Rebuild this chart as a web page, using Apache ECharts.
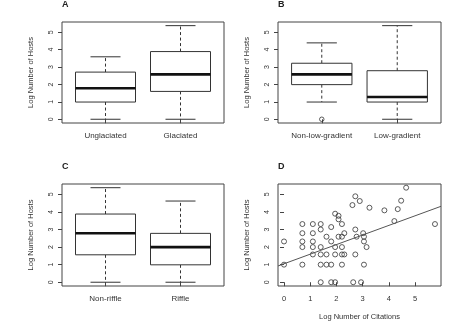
<!DOCTYPE html>
<html><head><meta charset="utf-8">
<script src="https://cdn.jsdelivr.net/npm/echarts@6/dist/echarts.min.js"></script>
<style>html,body{margin:0;padding:0;background:#fff}#c{width:474px;height:326px}</style>
</head><body><div id="c"></div>
<script>
// ---- data ----
const yTickValues = [0, 1, 2, 3, 4, 5];
const xTickValuesD = [0, 1, 2, 3, 4, 5];
const panelLetters = ['A', 'B', 'C', 'D'];
const yTitle = 'Log Number of Hosts';
const xTitleD = 'Log Number of Citations';

const categoriesA = ['Unglaciated', 'Glaciated'];
// [min, Q1, median, Q3, max]
const statsA = [[0, 0.99, 1.78, 2.71, 3.59], [0, 1.60, 2.58, 3.89, 5.38]];

const categoriesB = ['Non-low-gradient', 'Low-gradient'];
const statsB = [[0.99, 1.99, 2.58, 3.22, 4.39], [0, 0.99, 1.28, 2.79, 5.38]];
const outliersB = [[1, 0]]; // [category position, value]

const categoriesC = ['Non-riffle', 'Riffle'];
const statsC = [[0, 1.56, 2.79, 3.88, 5.38], [0, 0.99, 2.0, 2.78, 4.62]];

// panel D: [log citations, log hosts]
const citationsHosts = [
  [1.40,0],[1.80,0],[1.95,0],[2.64,0],[2.94,0],
  [0,1.0],[0.70,1.0],[1.40,1.0],[1.62,1.0],[1.80,1.0],[2.21,1.0],[3.05,1.0],
  [1.10,1.58],[1.40,1.58],[1.62,1.58],[1.95,1.58],[2.21,1.58],[2.30,1.58],[2.72,1.58],
  [0.70,2.0],[1.10,2.0],[1.40,2.0],[1.95,2.0],[2.21,2.0],[3.15,2.0],
  [0,2.32],[0.70,2.32],[1.10,2.32],[1.80,2.32],[3.05,2.32],
  [1.62,2.59],[2.08,2.59],[2.21,2.59],[2.77,2.59],[3.05,2.59],
  [0.70,2.79],[1.10,2.79],[2.30,2.79],[3.02,2.79],
  [1.40,3.0],[2.72,3.0],
  [1.80,3.14],
  [0.70,3.31],[1.10,3.31],[1.40,3.31],[2.21,3.31],[5.76,3.31],
  [2.08,3.58],[2.08,3.78],[1.95,3.90],
  [4.21,3.48],[3.83,4.09],[4.34,4.16],[3.26,4.24],[2.61,4.39],
  [2.89,4.62],[4.47,4.64],[2.72,4.89],[4.66,5.38]
];
const fitD = [1.05, 0.546]; // intercept, slope

// ---- chart ----
const FONT = 'Liberation Sans, Arial, sans-serif';
const AX = '#444';
const chart = echarts.init(document.getElementById('c'), null, {renderer: 'canvas'});

const grids = [
  {left: 62, top: 22, width: 162, height: 101},
  {left: 278, top: 22, width: 163, height: 101},
  {left: 62, top: 184, width: 162, height: 102},
  {left: 278, top: 184, width: 163, height: 102}
].map(g => Object.assign(g, {show: true, borderColor: AX, borderWidth: 1, backgroundColor: 'transparent'}));

function yAxis(i) {
  return {
    type: 'value', gridIndex: i, min: -0.215, max: 5.59,
    name: yTitle, nameLocation: 'middle', nameRotate: 90, nameGap: 27,
    nameTextStyle: {fontFamily: FONT, fontSize: 7.5, color: '#333'},
    axisLine: {show: false}, splitLine: {show: false},
    axisTick: {show: true, length: 4, lineStyle: {color: AX}, customValues: yTickValues},
    axisLabel: {show: true, rotate: 90, margin: 7, fontFamily: FONT, fontSize: 7, color: '#333',
      customValues: yTickValues}
  };
}
function xAxisBox(i, cats) {
  return {
    type: 'value', gridIndex: i, min: 0.42, max: 2.58,
    axisLine: {show: false}, splitLine: {show: false},
    axisTick: {show: true, length: 4, lineStyle: {color: AX}, customValues: [1, 2]},
    axisLabel: {show: true, margin: 9, fontFamily: FONT, fontSize: 8, color: '#333',
      customValues: [1, 2], formatter: v => cats[Math.round(v) - 1]}
  };
}

function renderBox(params, api) {
  const x = api.value(0), mn = api.value(1), q1 = api.value(2), md = api.value(3), q3 = api.value(4), mx = api.value(5);
  const c = (a, b) => api.coord([a, b]);
  const L = c(x - 0.4, q1)[0], R = c(x + 0.4, q1)[0], cx = c(x, q1)[0];
  const cl = c(x - 0.2, q1)[0], cr = c(x + 0.2, q1)[0];
  const y1 = c(x, q1)[1], y3 = c(x, q3)[1], ym = c(x, md)[1], yn = c(x, mn)[1], yx = c(x, mx)[1];
  const thin = {stroke: '#333', lineWidth: 1, fill: null};
  const dash = {stroke: '#333', lineWidth: 1, lineDash: [3, 2.5]};
  return {
    type: 'group',
    children: [
      {type: 'line', shape: {x1: cx, y1: y3, x2: cx, y2: yx}, style: dash},
      {type: 'line', shape: {x1: cx, y1: y1, x2: cx, y2: yn}, style: dash},
      {type: 'line', shape: {x1: cl, y1: yx, x2: cr, y2: yx}, style: thin},
      {type: 'line', shape: {x1: cl, y1: yn, x2: cr, y2: yn}, style: thin},
      {type: 'rect', shape: {x: L, y: y3, width: R - L, height: y1 - y3}, style: {stroke: '#333', lineWidth: 1, fill: '#fff'}},
      {type: 'line', shape: {x1: L, y1: ym, x2: R, y2: ym}, style: {stroke: '#111', lineWidth: 2.6}}
    ]
  };
}
function boxSeries(i, stats) {
  return {
    type: 'custom', xAxisIndex: i, yAxisIndex: i, renderItem: renderBox,
    encode: {x: 0, y: [1, 2, 3, 4, 5]}, silent: true,
    data: stats.map((s, k) => [k + 1].concat(s))
  };
}

const hollow = {color: 'rgba(255,255,255,0)', borderColor: '#333', borderWidth: 0.8, opacity: 1};
const xMinD = -0.23, xMaxD = 5.99;
const option = {
  animation: false,
  grid: grids,
  xAxis: [
    xAxisBox(0, categoriesA), xAxisBox(1, categoriesB), xAxisBox(2, categoriesC),
    {
      type: 'value', gridIndex: 3, min: xMinD, max: xMaxD,
      name: xTitleD, nameLocation: 'middle', nameGap: 27,
      nameTextStyle: {fontFamily: FONT, fontSize: 7.5, color: '#333'},
      axisLine: {show: false}, splitLine: {show: false},
      axisTick: {show: true, length: 4, lineStyle: {color: AX}, customValues: xTickValuesD},
      axisLabel: {show: true, margin: 9, fontFamily: FONT, fontSize: 7.5, color: '#333', customValues: xTickValuesD}
    }
  ],
  yAxis: [yAxis(0), yAxis(1), yAxis(2), yAxis(3)],
  series: [
    boxSeries(0, statsA), boxSeries(1, statsB), boxSeries(2, statsC),
    {type: 'scatter', xAxisIndex: 1, yAxisIndex: 1, data: outliersB, symbol: 'circle', symbolSize: 4.5,
      itemStyle: hollow, z: 5, silent: true},
    {type: 'scatter', xAxisIndex: 3, yAxisIndex: 3, data: citationsHosts, symbol: 'circle', symbolSize: 5,
      itemStyle: hollow, silent: true},
    {type: 'line', xAxisIndex: 3, yAxisIndex: 3, symbol: 'none', silent: true, clip: true,
      lineStyle: {color: '#555', width: 1},
      data: [[xMinD, fitD[0] + fitD[1] * xMinD], [xMaxD, fitD[0] + fitD[1] * xMaxD]]}
  ],
  graphic: [
    {type: 'text', left: 62, top: 0, style: {text: panelLetters[0], font: 'bold 9px ' + FONT, fill: '#222'}},
    {type: 'text', left: 278, top: 0, style: {text: panelLetters[1], font: 'bold 9px ' + FONT, fill: '#222'}},
    {type: 'text', left: 62, top: 162, style: {text: panelLetters[2], font: 'bold 9px ' + FONT, fill: '#222'}},
    {type: 'text', left: 278, top: 162, style: {text: panelLetters[3], font: 'bold 9px ' + FONT, fill: '#222'}}
  ]
};
chart.setOption(option);
</script></body></html>
